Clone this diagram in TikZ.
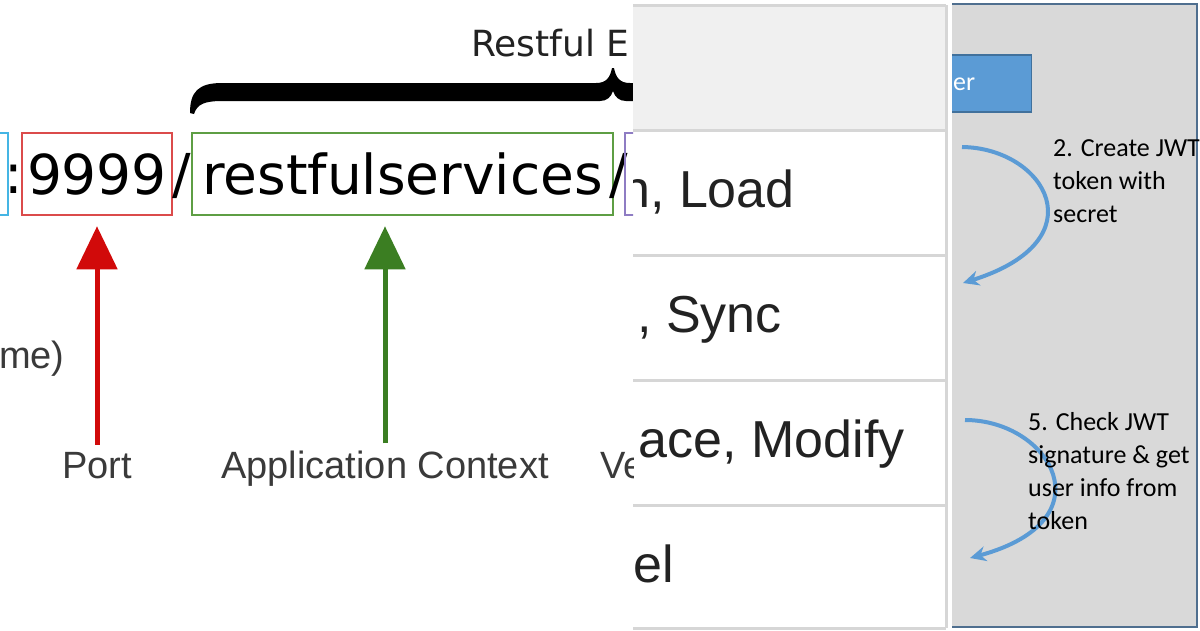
\documentclass[tikz,border=0pt]{standalone}
\usepackage{fontspec}
\usetikzlibrary{arrows.meta}
\newfontfamily\verdfont{DejaVu Sans}
\newfontfamily\arialfont{Liberation Sans}
\newfontfamily\califont{Carlito}
\definecolor{hostblue}{HTML}{45B5E4}
\definecolor{portred}{HTML}{DB4B4B}
\definecolor{arrowred}{HTML}{D10A0A}
\definecolor{ctxgreen}{HTML}{5E9E44}
\definecolor{arrowgreen}{HTML}{3B7E22}
\definecolor{verpurple}{HTML}{8E7CC3}
\definecolor{labelgray}{HTML}{3A3A3A}
\definecolor{headgray}{HTML}{F0F0F0}
\definecolor{gridgray}{HTML}{D6D6D6}
\definecolor{panelgray}{HTML}{D9D9D9}
\definecolor{paneledge}{HTML}{4F6F8F}
\definecolor{boxblue}{HTML}{5B9BD5}
\definecolor{boxedge}{HTML}{41719C}
\definecolor{celltext}{HTML}{222222}

\tikzset{
    urlbox/.style={draw, line width=2.5pt, minimum height=82pt, inner sep=0pt,
        font=\verdfont\fontsize{55}{60}\selectfont},
    urltext/.style={inner sep=0pt, font=\verdfont\fontsize{55}{60}\selectfont},
    lbl/.style={inner sep=2pt, text=labelgray, font=\arialfont\fontsize{38}{44}\selectfont},
    uparrow/.style={line width=5pt, -{Triangle[length=43pt,width=40pt]},
        shorten <=5pt, shorten >=10pt},
    gridline/.style={draw=gridgray, line width=3pt},
    cell/.style={inner sep=0pt, text=celltext, font=\arialfont\fontsize{52}{60}\selectfont},
    note/.style={inner sep=0pt, align=left, font=\califont\fontsize{26}{33}\selectfont},
    jwtarrow/.style={draw=boxblue, line width=4pt, -{Stealth[length=16pt,width=15pt]}}
}

\begin{document}
\begin{tikzpicture}[x=1pt, y=-1pt]

    \useasboundingbox (0,0) rectangle (1200,630);
    \fill[white] (0,0) rectangle (1200,630);

    % URL parts
    \begin{scope}
    \clip (0,0) rectangle (633,630);
    \node[urlbox, draw=hostblue, minimum width=60pt] (hostbox) at (-22,174) {};
    \node[urltext, anchor=base] (colon) at (14,193) {:};
    \node[urlbox, draw=portred, minimum width=150pt] (portbox) at (97,174) {9999};
    \node[urltext, anchor=base] (slashA) at (182,193) {/};
    \node[urlbox, draw=ctxgreen, minimum width=421pt] (ctxbox) at (402.5,174) {restfulservices};
    \node[urltext, anchor=base] (slashB) at (619,193) {/};
    \node[urlbox, draw=verpurple, minimum width=70pt] (verbox) at (660,174) {};

    % brace over the endpoint
    \node[anchor=base west, inner sep=0pt, text=celltext,
        font=\verdfont\fontsize{36}{42}\selectfont] (restful) at (471,56) {Restful E};
    \fill (190,113) .. controls (190,92) and (198,83) .. (222,83) -- (596,83)
        .. controls (606,83) and (610,78) .. (612,68) -- (614,68)
        .. controls (616,78) and (620,83) .. (630,83) -- (640,83) -- (640,101) -- (626,101)
        .. controls (619,101) and (615,97) .. (613,91)
        .. controls (611,97) and (607,101) .. (600,101) -- (222,101)
        .. controls (205,101) and (197,104) .. (194,114) -- cycle;

    % labels and arrows
    \node[lbl, anchor=base west] (hostname) at (-3,368) {me)};
    \node[lbl, anchor=base] (port) at (97,478) {Port};
    \draw[uparrow, arrowred] (port.north) -- (portbox.south);
    \node[lbl, anchor=base] (appctx) at (385,478) {Application Context};
    \draw[uparrow, arrowgreen] (appctx.north) -- (appctx.north |- ctxbox.south);
    \node[lbl, anchor=base west] (version) at (598,478) {Ve};
    \end{scope}

    % table of verbs
    \begin{scope}
    \clip (633,0) rectangle (950,630);
    \fill[headgray] (620,5) rectangle (946,130);
    \foreach \y in {5,130,255,380,505,628} {
        \draw[gridline] (620,\y) -- (946,\y);
    }
    \draw[gridline] (946,5) -- (946,628);
    \node[cell, anchor=base east] (rowA) at (795,207) {n, Load};
    \node[cell, anchor=base east] (rowB) at (782,332) {, Sync};
    \node[cell, anchor=base east] (rowC) at (905,457) {ace, Modify};
    \node[cell, anchor=base west] (rowD) at (633,582) {el};
    \end{scope}

    % JWT flow
    \begin{scope}
    \clip (952,0) rectangle (1200,630);
    \fill[panelgray] (952,4) rectangle (1197,627);
    \draw[paneledge, line width=2pt] (940,4) -- (1197,4) -- (1197,627) -- (940,627);
    \node[draw=boxedge, fill=boxblue, line width=1.5pt, minimum width=100pt,
        minimum height=57pt, anchor=east] (server) at (1032,83.5) {};
    \node[anchor=base west, inner sep=0pt, text=white,
        font=\califont\fontsize{26}{30}\selectfont] (serverlbl) at (953,90) {er};

    \coordinate (signstart) at (962,147);
    \coordinate (signend) at (963,283);
    \coordinate (checkstart) at (965,420);
    \coordinate (checkend) at (970,558);
    \draw[jwtarrow] (signstart) .. controls (1045,148) and (1100,240) .. (signend);
    \draw[jwtarrow] (checkstart) .. controls (1050,420) and (1110,520) .. (checkend);

    \node[note, anchor=north west] (createjwt) at (1053,139) {2. Create JWT\\token with\\secret};
    \node[note, anchor=north west] (checkjwt) at (1028,412) {5. Check JWT\\signature \& get\\user info from\\token};
    \end{scope}

\end{tikzpicture}
\end{document}
